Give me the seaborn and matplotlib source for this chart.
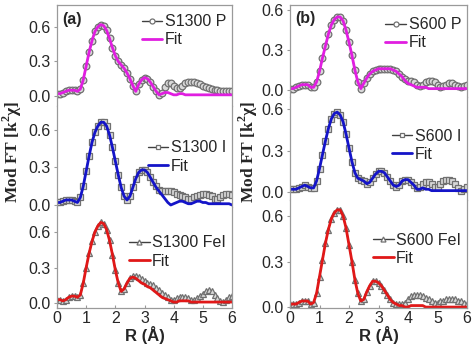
import numpy as np
import pandas as pd
import seaborn as sns
import matplotlib.pyplot as plt

# R grid (Angstrom), 0.0 ... 6.0
r_vals = [round(0.1 * i, 1) for i in range(61)]

# column (a): S1300 samples
s1300_p = [0.02, 0.02, 0.03, 0.04, 0.05, 0.05, 0.05, 0.04, 0.06, 0.14,
           0.26, 0.38, 0.48, 0.56, 0.60, 0.62, 0.61, 0.57, 0.50, 0.42,
           0.35, 0.30, 0.27, 0.24, 0.20, 0.15, 0.09, 0.04, 0.10, 0.14,
           0.16, 0.15, 0.12, 0.08, 0.04, 0.01, 0.03, 0.08, 0.11, 0.11,
           0.09, 0.07, 0.07, 0.09, 0.11, 0.12, 0.12, 0.12, 0.11, 0.10,
           0.09, 0.08, 0.07, 0.06, 0.05, 0.05, 0.04, 0.04, 0.04, 0.04, 0.04]
s1300_p_fit = [0.02, 0.02, 0.03, 0.04, 0.05, 0.05, 0.05, 0.04, 0.06, 0.14,
               0.26, 0.38, 0.48, 0.56, 0.60, 0.62, 0.61, 0.57, 0.50, 0.42,
               0.35, 0.30, 0.27, 0.24, 0.20, 0.15, 0.09, 0.04, 0.10, 0.14,
               0.16, 0.15, 0.12, 0.08, 0.04, 0.01, 0.02, 0.03, 0.03, 0.02,
               0.01, 0.01, 0.02, 0.02, 0.01, 0.01, 0.01, 0.01, 0.01, 0.01,
               0.01, 0.01, 0.01, 0.01, 0.01, 0.01, 0.01, 0.01, 0.01, 0.01, 0.01]

s1300_i = [0.02, 0.02, 0.03, 0.04, 0.04, 0.04, 0.03, 0.02, 0.06, 0.15,
           0.27, 0.39, 0.50, 0.58, 0.63, 0.66, 0.66, 0.63, 0.56, 0.46,
           0.35, 0.24, 0.14, 0.07, 0.04, 0.07, 0.14, 0.21, 0.26, 0.28,
           0.28, 0.26, 0.22, 0.18, 0.15, 0.12, 0.11, 0.11, 0.11, 0.11,
           0.10, 0.09, 0.08, 0.07, 0.06, 0.05, 0.05, 0.06, 0.07, 0.08,
           0.09, 0.09, 0.08, 0.07, 0.05, 0.05, 0.06, 0.08, 0.09, 0.09, 0.08]
s1300_i_fit = [0.02, 0.02, 0.03, 0.04, 0.04, 0.04, 0.03, 0.02, 0.06, 0.15,
               0.27, 0.39, 0.50, 0.58, 0.63, 0.66, 0.66, 0.63, 0.56, 0.46,
               0.35, 0.24, 0.14, 0.07, 0.04, 0.07, 0.14, 0.21, 0.26, 0.28,
               0.28, 0.26, 0.22, 0.18, 0.14, 0.11, 0.08, 0.05, 0.02, 0.00,
               0.01, 0.02, 0.03, 0.03, 0.02, 0.01, 0.01, 0.02, 0.03, 0.03,
               0.02, 0.02, 0.01, 0.01, 0.01, 0.01, 0.01, 0.01, 0.01, 0.01, 0.00]

s1300_fei = [0.03, 0.03, 0.02, 0.03, 0.05, 0.06, 0.06, 0.05, 0.07, 0.17,
             0.30, 0.42, 0.52, 0.60, 0.65, 0.68, 0.67, 0.62, 0.53, 0.41,
             0.28, 0.17, 0.10, 0.12, 0.17, 0.21, 0.23, 0.23, 0.22, 0.20,
             0.19, 0.17, 0.16, 0.15, 0.13, 0.11, 0.09, 0.07, 0.05, 0.03,
             0.03, 0.04, 0.05, 0.05, 0.05, 0.04, 0.03, 0.03, 0.04, 0.06,
             0.08, 0.10, 0.11, 0.10, 0.07, 0.04, 0.02, 0.01, 0.03, 0.05, 0.06]
s1300_fei_fit = [0.03, 0.03, 0.02, 0.03, 0.05, 0.06, 0.06, 0.05, 0.07, 0.17,
                 0.30, 0.42, 0.52, 0.60, 0.65, 0.68, 0.67, 0.62, 0.53, 0.41,
                 0.28, 0.17, 0.10, 0.12, 0.17, 0.21, 0.22, 0.21, 0.19, 0.17,
                 0.16, 0.14, 0.13, 0.11, 0.09, 0.07, 0.05, 0.04, 0.03, 0.02,
                 0.01, 0.01, 0.02, 0.02, 0.02, 0.02, 0.01, 0.01, 0.01, 0.01,
                 0.01, 0.01, 0.01, 0.01, 0.01, 0.01, 0.01, 0.01, 0.01, 0.01, 0.01]

# column (b): S600 samples
s600_p = [0.01, 0.01, 0.02, 0.03, 0.04, 0.04, 0.04, 0.02, 0.02, 0.06,
          0.14, 0.24, 0.33, 0.42, 0.49, 0.53, 0.55, 0.55, 0.52, 0.45,
          0.36, 0.26, 0.15, 0.06, 0.01, 0.05, 0.09, 0.12, 0.14, 0.15,
          0.16, 0.16, 0.16, 0.16, 0.16, 0.15, 0.14, 0.12, 0.10, 0.08,
          0.07, 0.07, 0.06, 0.04, 0.03, 0.04, 0.06, 0.07, 0.07, 0.06,
          0.04, 0.02, 0.03, 0.04, 0.05, 0.05, 0.04, 0.03, 0.02, 0.03, 0.04]
s600_p_fit = [0.01, 0.01, 0.02, 0.03, 0.04, 0.04, 0.04, 0.02, 0.02, 0.06,
              0.14, 0.24, 0.33, 0.42, 0.49, 0.53, 0.55, 0.55, 0.52, 0.45,
              0.36, 0.26, 0.15, 0.06, 0.01, 0.05, 0.09, 0.12, 0.14, 0.15,
              0.16, 0.16, 0.16, 0.16, 0.16, 0.15, 0.14, 0.12, 0.10, 0.07,
              0.05, 0.04, 0.03, 0.02, 0.02, 0.02, 0.02, 0.01, 0.01, 0.01,
              0.01, 0.01, 0.01, 0.01, 0.01, 0.01, 0.01, 0.01, 0.01, 0.01, 0.01]

s600_i = [0.02, 0.02, 0.02, 0.03, 0.04, 0.05, 0.04, 0.03, 0.03, 0.08,
          0.17, 0.27, 0.37, 0.46, 0.53, 0.57, 0.58, 0.56, 0.51, 0.42,
          0.32, 0.22, 0.14, 0.10, 0.09, 0.08, 0.06, 0.07, 0.10, 0.13,
          0.15, 0.15, 0.14, 0.11, 0.08, 0.05, 0.04, 0.05, 0.08, 0.09,
          0.09, 0.07, 0.05, 0.03, 0.04, 0.06, 0.07, 0.07, 0.06, 0.04,
          0.04, 0.06, 0.08, 0.09, 0.09, 0.08, 0.06, 0.03, 0.01, 0.02, 0.04]
s600_i_fit = [0.02, 0.02, 0.02, 0.03, 0.04, 0.05, 0.04, 0.03, 0.03, 0.08,
              0.17, 0.27, 0.37, 0.46, 0.53, 0.57, 0.58, 0.56, 0.51, 0.42,
              0.32, 0.22, 0.14, 0.10, 0.09, 0.08, 0.06, 0.07, 0.10, 0.13,
              0.15, 0.15, 0.14, 0.11, 0.08, 0.05, 0.04, 0.05, 0.08, 0.09,
              0.09, 0.07, 0.05, 0.02, 0.02, 0.03, 0.02, 0.02, 0.01, 0.01,
              0.01, 0.01, 0.01, 0.01, 0.01, 0.01, 0.01, 0.01, 0.01, 0.01, 0.01]

s600_fei = [0.02, 0.02, 0.02, 0.03, 0.04, 0.04, 0.04, 0.02, 0.03, 0.09,
            0.20, 0.31, 0.42, 0.51, 0.58, 0.62, 0.64, 0.64, 0.60, 0.52,
            0.41, 0.30, 0.18, 0.09, 0.04, 0.05, 0.10, 0.14, 0.17, 0.17,
            0.16, 0.14, 0.11, 0.08, 0.05, 0.03, 0.02, 0.02, 0.02, 0.03,
            0.05, 0.07, 0.08, 0.08, 0.08, 0.07, 0.06, 0.05, 0.04, 0.03,
            0.03, 0.04, 0.04, 0.05, 0.05, 0.05, 0.05, 0.04, 0.04, 0.03, 0.02]
s600_fei_fit = [0.02, 0.02, 0.02, 0.03, 0.04, 0.04, 0.04, 0.02, 0.03, 0.09,
                0.20, 0.31, 0.42, 0.51, 0.58, 0.62, 0.64, 0.64, 0.60, 0.52,
                0.41, 0.30, 0.18, 0.09, 0.04, 0.05, 0.10, 0.14, 0.17, 0.17,
                0.16, 0.14, 0.11, 0.08, 0.05, 0.03, 0.02, 0.01, 0.01, 0.00,
                0.00, 0.01, 0.01, 0.01, 0.01, 0.01, 0.00, 0.00, 0.00, 0.00,
                0.00, 0.00, 0.00, 0.00, 0.00, 0.00, 0.00, 0.00, 0.00, 0.00, 0.00]

labels_a = ["S1300 P", "S1300 I", "S1300 FeI"]
labels_b = ["S600 P", "S600 I", "S600 FeI"]

sns.set_style("ticks")
plt.rcParams['font.family'] = ['Liberation Sans', 'DejaVu Sans']

fit_colors = ["#e01ee0", "#1414c8", "#e01818"]
markers = ["o", "s", "^"]
spine_col = "#9a9a9a"

fig = plt.figure(figsize=(4.74, 3.5), dpi=100)

columns = [
    dict(left=57/474, right=232/474, ratios=[101, 101, 101],
         ylims=[(-0.087, 0.79), (-0.016, 0.79), (-0.04, 0.81)],
         leg_y=[1.02, 0.77, 0.83], data=[s1300_p, s1300_i, s1300_fei],
         fits=[s1300_p_fit, s1300_i_fit, s1300_fei_fit], labels=labels_a,
         tag="(a)", ylab_x=12/474),
    dict(left=290/474, right=467/474, ratios=[92, 103, 108],
         ylims=[(-0.053, 0.64), (-0.058, 0.69), (-0.006, 0.705)],
         leg_y=[0.99, 0.80, 0.80], data=[s600_p, s600_i, s600_fei],
         fits=[s600_p_fit, s600_i_fit, s600_fei_fit], labels=labels_b,
         tag="(b)", ylab_x=248/474),
]

for col in columns:
    gs = fig.add_gridspec(3, 1, left=col["left"], right=col["right"],
                          top=1 - 5/350, bottom=1 - 308/350, hspace=0,
                          height_ratios=col["ratios"])
    for i in range(3):
        ax = fig.add_subplot(gs[i])
        df = pd.DataFrame({"R": r_vals, "data": col["data"][i], "fit": col["fits"][i]})
        sns.lineplot(data=df, x="R", y="data", ax=ax, color="#404040", lw=1.0,
                     marker=markers[i], markersize=4.8, markerfacecolor="#d8d8d8",
                     markeredgecolor="#707070", markeredgewidth=0.9,
                     label=col["labels"][i])
        sns.lineplot(data=df, x="R", y="fit", ax=ax, color=fit_colors[i],
                     lw=2.0, label="Fit")
        ax.set_xlim(0, 6)
        ax.set_ylim(*col["ylims"][i])
        ax.set_yticks([0.0, 0.3, 0.6])
        ax.set_yticklabels(["0.0", "0.3", "0.6"])
        ax.set_xticks(range(7))
        ax.set_xlabel("")
        ax.set_ylabel("")
        ax.tick_params(axis="y", direction="out", length=2.5, width=0.8,
                       color=spine_col, labelsize=11.5, pad=2)
        ax.tick_params(axis="x", direction="in", length=2.5, width=0.8,
                       color=spine_col, labelsize=11.5, pad=2)
        for s in ax.spines.values():
            s.set_color(spine_col)
            s.set_linewidth(0.9)
        if i > 0:
            ax.spines["top"].set_visible(False)
        if i < 2:
            ax.spines["bottom"].set_visible(False)
            ax.tick_params(axis="x", bottom=False, labelbottom=False)
        leg = ax.legend(loc="upper right", bbox_to_anchor=(1.03, col["leg_y"][i]),
                        frameon=False, fontsize=11.5, handlelength=1.3,
                        handletextpad=0.15, labelspacing=0.2, borderpad=0.2,
                        numpoints=1, markerscale=0.75)
        leg.get_lines()[0].set_markerfacecolor("white")
        if i == 0:
            ax.text(0.03, 0.93, col["tag"], transform=ax.transAxes,
                    fontsize=11.5, fontweight="bold", va="top", ha="left")
        if i == 2:
            ax.set_xlabel("R (Å)", fontsize=12, fontweight="bold", labelpad=0)
    fig.text(col["ylab_x"], 1 - 152/350, "Mod FT [k$^{\\mathregular{2}}$χ]",
             rotation=90, ha="center", va="center", fontsize=12.5,
             fontweight="bold", family=["Liberation Serif", "DejaVu Serif"])

fig.savefig("out.png", dpi=100)
